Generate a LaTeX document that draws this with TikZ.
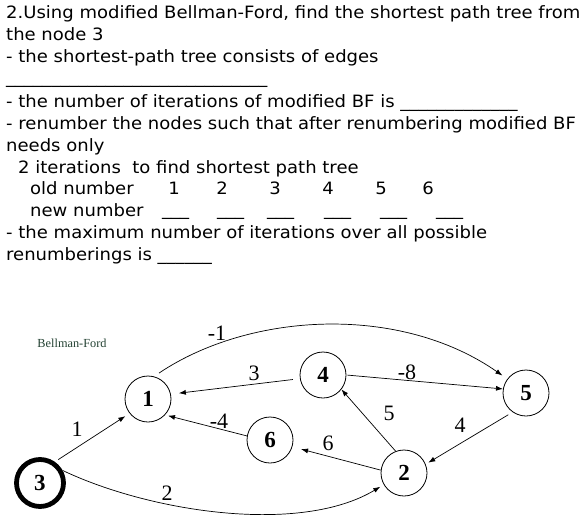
\documentclass[tikz,border=0pt]{standalone}
\usepackage{fontspec}
\setmainfont{Liberation Serif}
\newfontfamily\verd[FakeStretch=1.06]{DejaVu Sans}
\usetikzlibrary{arrows.meta}
\definecolor{bfgreen}{RGB}{35,65,50}
\begin{document}
\begin{tikzpicture}[x=1pt,y=-1pt,
  txt/.style={anchor=base west, inner sep=0pt, font=\verd\fontsize{17}{20}\selectfont},
  vtx/.style={circle, draw, line width=0.8pt, minimum size=46pt, inner sep=0pt, font=\fontsize{23}{23}\selectfont\bfseries},
  src/.style={vtx, line width=4.8pt, minimum size=47pt},
  lbl/.style={inner sep=0pt, font=\fontsize{22}{22}\selectfont},
  arc/.style={draw, line width=0.7pt, -{Latex[length=7pt,width=5pt]}}]
\useasboundingbox (0,0) rectangle (584,520);
% question text
\node[txt] (t1) at (6,18.3) {2.Using modified Bellman-Ford, find the shortest path tree from};
\node[txt] (t2) at (6,40) {the node 3};
\node[txt] (t3) at (6,62) {- the shortest-path tree consists of edges};
\node[txt] (t4) at (6,83) {\_\_\_\_\_\_\_\_\_\_\_\_\_\_\_\_\_\_\_\_\_\_\_\_\_\_\_\_\_};
\node[txt] (t5) at (6,107) {- the number of iterations of modified BF is \_\_\_\_\_\_\_\_\_\_\_\_\_};
\node[txt] (t6) at (6,129) {- renumber the nodes such that after renumbering modified BF};
\node[txt] (t7) at (6,151) {needs only};
\node[txt] (t8) at (18,173) {2 iterations\ \ to find shortest path tree};
\node[txt] (t9) at (30,194) {old number};
\node[txt] (t10) at (30,216) {new number};
\foreach \xx/\lab/\ux [count=\i] in {174/1/162, 222/2/217, 275/3/267, 328/4/324, 381/5/380, 428/6/436}{
  \node[txt, anchor=base] (o\i) at (\xx,194) {\lab};
  \node[txt] (u\i) at (\ux,215) {\_\_\_};
}
\node[txt] (t11) at (6,238) {- the maximum number of iterations over all possible};
\node[txt] (t12) at (6,260) {renumberings is \_\_\_\_\_\_};
% graph
\node[font=\fontsize{12.3}{12.3}\selectfont, text=bfgreen, inner sep=0pt] (bf) at (72,343) {Bellman-Ford};
\node[src] (n3) at (40,483) {3};
\node[vtx] (n1) at (148,399) {1};
\node[vtx] (n4) at (323,375) {4};
\node[vtx] (n5) at (526,393) {5};
\node[vtx] (n6) at (270,440) {6};
\node[vtx] (n2) at (404,473) {2};
\path[arc, shorten <=4pt, shorten >=5pt] (n3.55) -- (n1.218);
\path[arc, shorten <=7pt, shorten >=8pt] (n4.189) -- (n1.12);
\path[arc, shorten >=3pt] (n6.170) -- (n1.317);
\path[arc, shorten <=6pt, shorten >=6pt] (n1.75) .. controls (250,312) and (400,304) .. (n5.143);
\path[arc, shorten <=1pt] (n4.0) -- (n5.170);
\path[arc] (n2.111) -- (n4.322);
\path[arc, shorten >=9pt] (n2.173) -- (n6.343);
\path[arc, shorten <=5pt, shorten >=3pt] (n5.235) -- (n2.22);
\path[arc, shorten >=4pt] (n3.29) .. controls (150,512) and (300,535) .. (n2.210);
% weights
\node[lbl] (w31) at (77,429) {1};
\node[lbl] (w15) at (217,333) {-1};
\node[lbl] (w41) at (254,373) {3};
\node[lbl] (w61) at (219,421) {-4};
\node[lbl] (w32) at (167,493) {2};
\node[lbl] (w45) at (407,372) {-8};
\node[lbl] (w24) at (389,413) {5};
\node[lbl] (w52) at (460,425) {4};
\node[lbl] (w26) at (328,443) {6};
\end{tikzpicture}
\end{document}
